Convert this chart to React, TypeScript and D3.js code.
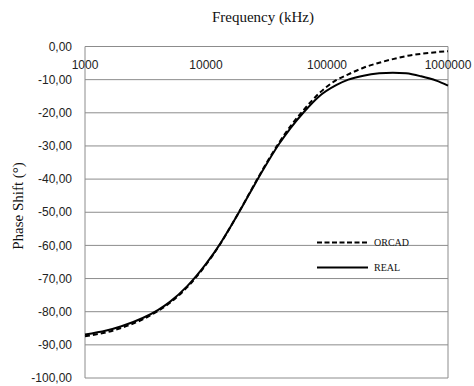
import React from "react";
import * as d3 from "d3";

const freqs = [1000, 1500, 2000, 3000, 4000, 5000, 7000, 10000, 13000, 16000, 20000, 25000, 30000, 40000, 50000, 65000, 85000, 120000, 150000, 200000, 270000, 350000, 450000, 600000, 800000, 1000000];
const orcad = [-87.4, -86.2, -84.9, -82.3, -79.8, -77.4, -72.6, -65.8, -59.8, -54.3, -48.1, -41.7, -36.6, -29.1, -24.0, -18.9, -14.3, -10.1, -8.4, -6.4, -4.9, -3.8, -2.9, -2.2, -1.7, -1.4];
const real = [-86.9, -85.7, -84.4, -81.9, -79.5, -77.1, -72.3, -65.6, -59.7, -54.3, -48.2, -41.9, -36.9, -29.5, -24.6, -19.6, -15.2, -11.6, -10.0, -8.8, -8.1, -7.9, -8.1, -9.0, -10.3, -11.8];
const xTicks = [1000, 10000, 100000, 1000000];
const yTicks = [0, -10, -20, -30, -40, -50, -60, -70, -80, -90, -100];
const seriesNames = ["ORCAD", "REAL"];

export default function App() {
  const W = 474, H = 386;
  const x = d3.scaleLog().domain([1000, 1000000]).range([85, 448]);
  const y = d3.scaleLinear().domain([-100, 0]).range([378, 46.5]);
  const mk = (vals: number[]) =>
    d3.line<number>()
      .x((_, i) => x(freqs[i]))
      .y((v) => y(v))
      .curve(d3.curveMonotoneX)(vals) || "";
  const fmt = (v: number) => v.toFixed(2).replace(".", ",");
  const gridColor = "#8c8c8c";
  return (
    <svg width={W} height={H} style={{ position: "absolute", left: 0, top: 0, background: "#fff" }}>
      <rect x={0} y={0} width={W} height={H} fill="#fff" />
      {yTicks.map((t) => (
        <line key={"g" + t} x1={x(1000)} x2={x(1000000)} y1={y(t)} y2={y(t)} stroke={gridColor} strokeWidth={1} />
      ))}
      <line x1={x(1000)} x2={x(1000)} y1={y(0)} y2={y(-100)} stroke={gridColor} strokeWidth={1} />
      <line x1={x(1000000)} x2={x(1000000)} y1={y(0)} y2={y(-100)} stroke={gridColor} strokeWidth={1} />
      {yTicks.map((t) => (
        <text key={"yl" + t} x={72} y={y(t)} dy="0.35em" textAnchor="end" fontFamily="'Liberation Sans', Arial, sans-serif" fontSize={12} fill="#222">
          {fmt(t)}
        </text>
      ))}
      {xTicks.map((t) => (
        <text key={"xl" + t} x={x(t)} y={65} dy="0.35em" textAnchor="middle" fontFamily="'Liberation Sans', Arial, sans-serif" fontSize={12} fill="#222">
          {String(t)}
        </text>
      ))}
      <path d={mk(orcad)} fill="none" stroke="#000" strokeWidth={2} strokeDasharray="5,3" />
      <path d={mk(real)} fill="none" stroke="#000" strokeWidth={2} />
      <text x={263} y={17} dy="0.35em" textAnchor="middle" fontFamily="'Liberation Serif', 'Times New Roman', serif" fontSize={15} fill="#111">
        Frequency (kHz)
      </text>
      <text transform={`translate(18,206) rotate(-90)`} dy="0.35em" textAnchor="middle" fontFamily="'Liberation Serif', 'Times New Roman', serif" fontSize={15} fill="#111">
        Phase Shift (°)
      </text>
      <line x1={317} x2={368} y1={242.5} y2={242.5} stroke="#000" strokeWidth={2} strokeDasharray="5,2.5" />
      <text x={374} y={242.5} dy="0.35em" fontFamily="'Liberation Serif', 'Times New Roman', serif" fontSize={10} fill="#111">
        {seriesNames[0]}
      </text>
      <line x1={317} x2={368} y1={267.5} y2={267.5} stroke="#000" strokeWidth={2} />
      <text x={374} y={267.5} dy="0.35em" fontFamily="'Liberation Serif', 'Times New Roman', serif" fontSize={10} fill="#111">
        {seriesNames[1]}
      </text>
    </svg>
  );
}
